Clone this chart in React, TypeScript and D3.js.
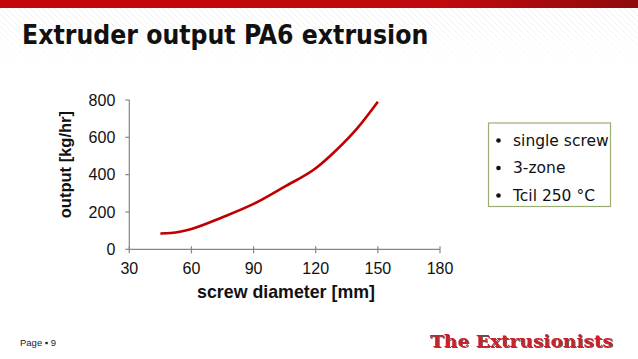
import React from "react";
import * as d3 from "d3";

const diameters = [45, 50, 55, 60, 75, 90, 105, 120, 130, 140, 150];
const outputs = [85, 87, 95, 109, 172, 243, 336, 434, 532, 648, 791];
const xTicks = [30, 60, 90, 120, 150, 180];
const yTicks = [0, 200, 400, 600, 800];
const legendItems = ["single screw", "3-zone", "Tcil 250 °C"];

const W = 638, H = 359;
const x = d3.scaleLinear().domain([30, 180]).range([129.3, 440]);
const y = d3.scaleLinear().domain([0, 800]).range([249.3, 100]);

export default function App() {
  const line = d3.line<number>()
    .x((_, i) => x(diameters[i]))
    .y((d) => y(d))
    .curve(d3.curveMonotoneX);
  const stripes = d3.range(-60, 700, 6);
  return (
    <svg width={W} height={H} style={{ position: "absolute", left: 0, top: 0 }}>
      <defs>
        <linearGradient id="redbar" x1="0" x2="1" y1="0" y2="0">
          <stop offset="0" stopColor="#c4070c" />
          <stop offset="0.7" stopColor="#c00a0e" />
          <stop offset="1" stopColor="#8f0a0c" />
        </linearGradient>
        <linearGradient id="fade" x1="0" x2="0" y1="0" y2="1">
          <stop offset="0" stopColor="#fff" stopOpacity="0" />
          <stop offset="1" stopColor="#fff" stopOpacity="1" />
        </linearGradient>
        <filter id="sh" x="-5%" y="-20%" width="110%" height="140%">
          <feDropShadow dx="1" dy="1" stdDeviation="0.6" floodColor="#333" floodOpacity="0.8" />
        </filter>
      </defs>
      <rect width={W} height={H} fill="#fff" />
      <g opacity={0.4}>
        {stripes.map((s) => (
          <line key={s} x1={s} y1={8} x2={s + 55} y2={63} stroke="#d4d4d4" strokeWidth={1} />
        ))}
      </g>
      <rect x={0} y={8} width={W} height={56} fill="url(#fade)" />
      <rect x={0} y={0} width={W} height={8} fill="url(#redbar)" />
      <text x={22} y={43.5} fontFamily="DejaVu Sans Condensed, DejaVu Sans" fontWeight="bold" fontSize={26.3} fill="#111">
        Extruder output PA6 extrusion
      </text>

      {/* axes */}
      <line x1={x(30)} x2={x(30)} y1={y(800)} y2={y(0)} stroke="#868686" strokeWidth={1.2} />
      <line x1={x(30)} x2={x(180)} y1={y(0)} y2={y(0)} stroke="#868686" strokeWidth={1.2} />
      {yTicks.map((t) => (
        <g key={t}>
          <line x1={x(30) - 4} x2={x(30)} y1={y(t)} y2={y(t)} stroke="#868686" strokeWidth={1.2} />
          <text x={x(30) - 14} y={y(t)} dy="0.35em" textAnchor="end" fontFamily="Liberation Sans, Arial" fontSize={16} fill="#111">
            {t}
          </text>
        </g>
      ))}
      {xTicks.map((t) => (
        <g key={t}>
          <line x1={x(t)} x2={x(t)} y1={y(0) - 3} y2={y(0) + 4} stroke="#868686" strokeWidth={1.2} />
          <text x={x(t)} y={y(0) + 25} textAnchor="middle" fontFamily="Liberation Sans, Arial" fontSize={16} fill="#111">
            {t}
          </text>
        </g>
      ))}
      <text transform={`translate(71,${(y(0) + y(800)) / 2 - 10}) rotate(-90)`} textAnchor="middle" fontFamily="Liberation Sans, Arial" fontWeight="bold" fontSize={16.5} fill="#111">
        output [kg/hr]
      </text>
      <text x={286} y={298} textAnchor="middle" fontFamily="Liberation Sans, Arial" fontWeight="bold" fontSize={17.8} fill="#111">
        screw diameter [mm]
      </text>

      <path d={line(outputs) || ""} fill="none" stroke="#c00000" strokeWidth={2.6} />

      {/* legend */}
      <rect x={488.5} y={123} width={122} height={83.5} fill="#fff" stroke="#9bad75" strokeWidth={1.2} />
      {legendItems.map((s, i) => (
        <g key={s}>
          <circle cx={498.5} cy={140.5 + i * 27.5} r={2.3} fill="#111" />
          <text x={513} y={145.5 + i * 27.5} fontFamily="DejaVu Sans" fontSize={15.5} fill="#111">
            {s}
          </text>
        </g>
      ))}

      <text x={20} y={346} fontFamily="Liberation Sans, Arial" fontSize={9.5} fill="#222">
        Page ▪ 9
      </text>
      <text x={430} y={347} fontFamily="DejaVu Serif" fontWeight="bold" fontSize={17} fill="#c8202a" filter="url(#sh)" textLength={183} lengthAdjust="spacingAndGlyphs">
        The Extrusionists
      </text>
    </svg>
  );
}
